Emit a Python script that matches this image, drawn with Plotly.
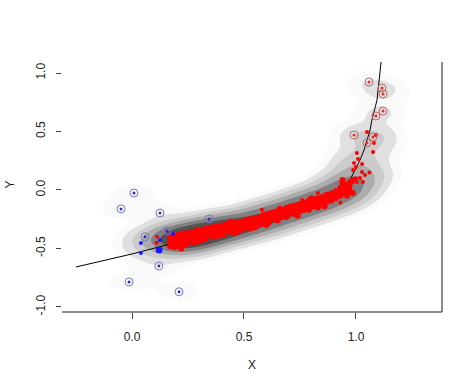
import numpy as np
import plotly.graph_objects as go

# ---------------- data ----------------
# fitted curve
curve_x = [-0.250, 0.000, 0.170, 0.304, 0.527, 0.750, 0.884, 0.951, 0.973, 0.996,
           1.018, 1.036, 1.049, 1.063, 1.071, 1.094, 1.112, 1.116]
curve_y = [-0.658, -0.547, -0.462, -0.402, -0.299, -0.188, -0.103, 0.000, 0.085, 0.171,
           0.256, 0.342, 0.427, 0.513, 0.598, 0.769, 1.094, 1.154]

# red points: dense band
band_x = [0.17, 0.17, 0.17,
          0.19, 0.19, 0.19, 0.19,
          0.21, 0.21, 0.21, 0.21,
          0.23, 0.23, 0.23, 0.23,
          0.25, 0.25, 0.25, 0.25,
          0.27, 0.27, 0.27,
          0.29, 0.29, 0.29, 0.29,
          0.31, 0.31, 0.31, 0.31,
          0.33, 0.33, 0.33, 0.33,
          0.35, 0.35, 0.35,
          0.37, 0.37, 0.37, 0.37,
          0.39, 0.39, 0.39, 0.39,
          0.41, 0.41, 0.41, 0.41,
          0.43, 0.43, 0.43,
          0.45, 0.45, 0.45, 0.45,
          0.47, 0.47, 0.47, 0.47,
          0.49, 0.49, 0.49, 0.49,
          0.51, 0.51, 0.51,
          0.53, 0.53, 0.53, 0.53,
          0.55, 0.55, 0.55, 0.55,
          0.57, 0.57, 0.57,
          0.59, 0.59, 0.59, 0.59,
          0.61, 0.61, 0.61, 0.61,
          0.63, 0.63, 0.63,
          0.65, 0.65, 0.65, 0.65,
          0.67, 0.67, 0.67,
          0.69, 0.69, 0.69, 0.69,
          0.71, 0.71, 0.71,
          0.73, 0.73, 0.73, 0.73,
          0.75, 0.75, 0.75,
          0.77, 0.77, 0.77,
          0.79, 0.79, 0.79, 0.79,
          0.81, 0.81, 0.81,
          0.83, 0.83, 0.83, 0.83,
          0.85, 0.85, 0.85,
          0.87, 0.87, 0.87,
          0.89, 0.89, 0.89,
          0.91, 0.91, 0.91,
          0.93, 0.93, 0.93,
          0.95, 0.95, 0.95,
          0.97, 0.97, 0.97,
          0.22, 0.28, 0.44, 0.52, 0.60, 0.66, 0.74, 0.80, 0.86, 0.94, 0.96, 0.98,
          0.94, 0.955, 0.97, 0.985, 0.94, 0.955, 0.985,
          0.18, 0.18, 0.18, 0.20, 0.20, 0.20, 0.22, 0.22, 0.22, 0.24, 0.24, 0.24,
          0.26, 0.26, 0.26, 0.28, 0.28, 0.28, 0.30, 0.30, 0.30, 0.32, 0.32, 0.32,
          0.34, 0.34, 0.36, 0.36, 0.38, 0.38, 0.40, 0.40, 0.42, 0.42]
band_y = [-0.40, -0.44, -0.48,
          -0.39, -0.42, -0.46, -0.49,
          -0.38, -0.41, -0.45, -0.48,
          -0.37, -0.40, -0.44, -0.47,
          -0.37, -0.39, -0.43, -0.46,
          -0.36, -0.39, -0.42,
          -0.34, -0.37, -0.41, -0.44,
          -0.34, -0.36, -0.40, -0.43,
          -0.33, -0.36, -0.39, -0.42,
          -0.32, -0.35, -0.39,
          -0.31, -0.34, -0.37, -0.40,
          -0.31, -0.33, -0.36, -0.39,
          -0.30, -0.33, -0.36, -0.38,
          -0.29, -0.32, -0.35,
          -0.28, -0.31, -0.34, -0.37,
          -0.28, -0.30, -0.33, -0.36,
          -0.27, -0.29, -0.32, -0.34,
          -0.26, -0.29, -0.32,
          -0.25, -0.28, -0.31, -0.33,
          -0.24, -0.27, -0.30, -0.32,
          -0.23, -0.26, -0.29,
          -0.21, -0.24, -0.27, -0.29,
          -0.20, -0.23, -0.26, -0.28,
          -0.19, -0.22, -0.25,
          -0.18, -0.21, -0.24, -0.26,
          -0.17, -0.20, -0.23,
          -0.15, -0.18, -0.21, -0.23,
          -0.14, -0.17, -0.20,
          -0.13, -0.16, -0.19, -0.21,
          -0.12, -0.15, -0.18,
          -0.11, -0.14, -0.17,
          -0.09, -0.12, -0.15, -0.17,
          -0.08, -0.11, -0.14,
          -0.07, -0.10, -0.13, -0.15,
          -0.06, -0.09, -0.12,
          -0.04, -0.07, -0.10,
          -0.03, -0.06, -0.09,
          -0.01, -0.04, -0.07,
          0.02, -0.01, -0.05,
          0.04, 0.01, -0.03,
          0.06, 0.02, -0.01,
          -0.50, -0.45, -0.27, -0.25, -0.30, -0.16, -0.22, -0.07, -0.14, 0.06, -0.05, 0.07,
          0.085, 0.03, 0.03, 0.085, -0.026, -0.026, -0.026,
          -0.41, -0.435, -0.46, -0.40, -0.425, -0.45, -0.39, -0.415, -0.44, -0.38, -0.405, -0.43,
          -0.375, -0.395, -0.42, -0.365, -0.39, -0.41, -0.355, -0.38, -0.40, -0.35, -0.37, -0.395,
          -0.35, -0.375, -0.34, -0.365, -0.335, -0.36, -0.325, -0.35, -0.32, -0.345]

# red points: sparse tail and strays
tail_x = [0.110, 0.112, 0.580, 0.760, 0.830, 0.930, 1.000,
          1.049, 1.089, 1.080, 1.076, 1.004, 1.009, 0.991, 1.000, 1.027, 0.987,
          1.027, 1.040, 1.018, 1.004, 1.031, 1.060]
tail_y = [-0.450, -0.400, -0.170, -0.085, -0.026, -0.110, 0.100,
          0.496, 0.470, 0.402, 0.325, 0.316, 0.265, 0.231, 0.197, 0.222, 0.171,
          0.154, 0.128, 0.103, 0.068, 0.068, 0.150]

# red outliers (circled)
red_out_x = [1.058, 1.116, 1.121, 1.121, 1.089, 0.991, 1.076, 1.049]
red_out_y = [0.923, 0.872, 0.821, 0.675, 0.632, 0.470, 0.453, 0.402]

# blue points near the low end
blue_x = [0.125, 0.040, 0.183, 0.040]
blue_y = [-0.427, -0.453, -0.376, -0.538]
blue_big_x = [0.121]
blue_big_y = [-0.513]

# blue outliers (circled)
blue_out_x = [0.009, -0.049, 0.125, 0.344, 0.058, 0.156, 0.120, -0.013, 0.210]
blue_out_y = [-0.026, -0.162, -0.197, -0.248, -0.400, -0.350, -0.650, -0.786, -0.870]

x_ticks = [0.0, 0.5, 1.0]
y_ticks = [-1.0, -0.5, 0.0, 0.5, 1.0]

# ---------------- smoothed density (computed from the points) ----------------
all_x = np.array(band_x + tail_x + red_out_x + blue_x + blue_big_x + blue_out_x)
all_y = np.array(band_y + tail_y + red_out_y + blue_y + blue_big_y + blue_out_y)
gx = np.linspace(-0.32, 1.39, 260)
gy = np.linspace(-1.05, 1.10, 260)
GX, GY = np.meshgrid(gx, gy)
hx, hy = 0.075, 0.065
dens = np.zeros_like(GX)
for px, py in zip(all_x, all_y):
    dens += np.exp(-0.5 * ((GX - px) / hx) ** 2 - 0.5 * ((GY - py) / hy) ** 2)
z = (dens / dens.max()) ** 0.25

fig = go.Figure()
fig.add_trace(go.Contour(
    x=gx, y=gy, z=z, zmin=0, zmax=1,
    colorscale=[[0, '#ffffff'], [0.2, '#ffffff'], [0.26, '#ececec'],
                [0.36, '#e0e0e0'], [0.46, '#d2d2d2'], [0.56, '#c0c0c0'],
                [0.66, '#a8a8a8'], [0.76, '#8a8a8a'], [0.86, '#666666'], [1, '#404040']],
    contours=dict(start=0.22, end=1.0, size=0.1, coloring='fill'),
    line=dict(width=0), showscale=False, hoverinfo='skip'))

fig.add_trace(go.Scatter(x=curve_x, y=curve_y, mode='lines',
                         line=dict(color='black', width=1), hoverinfo='skip'))

fig.add_trace(go.Scatter(x=band_x, y=band_y, mode='markers',
                         marker=dict(color='#ff0000', size=6, line=dict(width=0))))
fig.add_trace(go.Scatter(x=tail_x, y=tail_y, mode='markers',
                         marker=dict(color='#ff0000', size=4, line=dict(width=0))))

fig.add_trace(go.Scatter(x=blue_x, y=blue_y, mode='markers',
                         marker=dict(color='#1a1aff', size=4, line=dict(width=0))))
fig.add_trace(go.Scatter(x=blue_big_x, y=blue_big_y, mode='markers',
                         marker=dict(color='#1a1aff', size=7, line=dict(width=0))))

for ox, oy, col, ring in [(blue_out_x, blue_out_y, '#3030c0', '#7a7ab8'),
                          (red_out_x, red_out_y, '#e03030', '#b86a6a')]:
    fig.add_trace(go.Scatter(x=ox, y=oy, mode='markers',
                             marker=dict(color=col, size=3, line=dict(width=0))))
    fig.add_trace(go.Scatter(x=ox, y=oy, mode='markers',
                             marker=dict(symbol='circle-open', color=ring, size=8,
                                         line=dict(width=1))))

font = dict(family='Liberation Sans, Arial, sans-serif', size=12, color='#222222')
fig.update_layout(
    width=474, height=389,
    margin=dict(l=62, r=32, t=62, b=77),
    paper_bgcolor='white', plot_bgcolor='white',
    showlegend=False, font=font,
    xaxis=dict(range=[-0.3125, 1.384], tickvals=x_ticks,
               ticktext=[f'{v:.1f}' for v in x_ticks],
               ticks='outside', ticklen=6, tickcolor='#444', tickwidth=1,
               showgrid=False, zeroline=False, showline=False,
               ticklabelstandoff=8),
    yaxis=dict(range=[-1.043, 1.094], tickvals=y_ticks,
               ticktext=[f'{v:.1f}' for v in y_ticks],
               ticks='outside', ticklen=5, tickcolor='#444', tickwidth=1,
               tickangle=-90,
               showgrid=False, zeroline=False, showline=False,
               ticklabelstandoff=6),
    shapes=[
        dict(type='line', xref='paper', yref='paper', x0=0, x1=1, y0=0, y1=0,
             line=dict(color='#666666', width=1.5)),
        dict(type='line', xref='paper', yref='paper', x0=1, x1=1, y0=0, y1=1,
             line=dict(color='#666666', width=1.5)),
    ],
    annotations=[
        dict(text='X', xref='paper', yref='paper', x=0.5, y=-0.212,
             showarrow=False, font=font, xanchor='center', yanchor='middle'),
        dict(text='Y', xref='paper', yref='paper', x=-0.137, y=0.51,
             showarrow=False, font=font, textangle=-90,
             xanchor='center', yanchor='middle'),
    ],
)

fig.write_html('out.html')
